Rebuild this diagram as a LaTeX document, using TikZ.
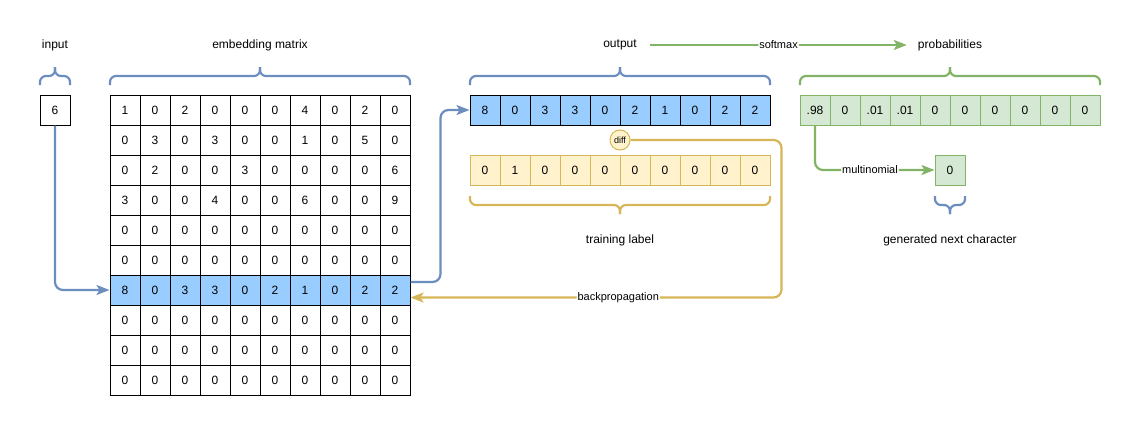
\documentclass[tikz,border=0pt]{standalone}
\usepackage{fontspec}
\setmainfont{Liberation Sans}
\usetikzlibrary{arrows.meta,calc}
\definecolor{bluestroke}{HTML}{6C8EBF}
\definecolor{bluefill}{HTML}{99CCFF}
\definecolor{yellowstroke}{HTML}{D6B656}
\definecolor{yellowfill}{HTML}{FFF2CC}
\definecolor{greenstroke}{HTML}{82B366}
\definecolor{greenfill}{HTML}{D5E8D4}
\def\curlybrace[#1](#2:#3)(#4:#5:#6){\draw[#1] (#2,#4) -- (#2,#5) -- ({(#2+#3)/2},#5) -- ({(#2+#3)/2},#6); \draw[#1] (#3,#4) -- (#3,#5) -- ({(#2+#3)/2},#5) -- ({(#2+#3)/2},#6);}

\begin{document}
\begin{tikzpicture}[x=1pt, y=-1pt,
	cell/.style={draw, line width=1pt, minimum size=30pt, inner sep=0pt, font=\fontsize{12}{14}\selectfont},
	heading/.style={inner sep=0pt, minimum height=14pt, font=\fontsize{12}{14}\selectfont},
	elabel/.style={fill=white, text=black, inner sep=1pt, font=\fontsize{11}{13}\selectfont},
	link/.style={line width=2.2pt, rounded corners=8pt, -{Stealth[length=13pt, width=10pt, inset=3pt]}},
	curly/.style={line width=2.2pt, rounded corners=6pt}]
		%%%%% START %%%%%
		\useasboundingbox (0,0) rectangle (1132,426);
		
		\node[heading] (inputtitle) at (55,45) {input};
		\node[heading] (embtitle) at (260,45) {embedding matrix};
		\node[heading, minimum width=60pt] (outtitle) at (620,45) {output};
		\node[heading, minimum width=86pt] (probtitle) at (950,45) {probabilities};
		\node[heading] (traintitle) at (620,240) {training label};
		\node[heading] (gentitle) at (950,240) {generated next character};
		
		\node[cell] (inp) at (55,110) {6};
		
		% embedding matrix, row 7 is the looked up one
		\foreach \row [count=\r] in {{1,0,2,0,0,0,4,0,2,0},{0,3,0,3,0,0,1,0,5,0},{0,2,0,0,3,0,0,0,0,6},{3,0,0,4,0,0,6,0,0,9},{0,0,0,0,0,0,0,0,0,0},{0,0,0,0,0,0,0,0,0,0},{8,0,3,3,0,2,1,0,2,2},{0,0,0,0,0,0,0,0,0,0},{0,0,0,0,0,0,0,0,0,0},{0,0,0,0,0,0,0,0,0,0}}{
			\ifnum\r=7 \def\cellfill{bluefill}\else\def\cellfill{white}\fi
			\foreach \v [count=\c] in \row
				\node[cell, fill=\cellfill] (m-\r-\c) at ({95+30*\c},{80+30*\r}) {\v};
		}
		
		\foreach \v [count=\c] in {8,0,3,3,0,2,1,0,2,2}
			\node[cell, fill=bluefill] (o-\c) at ({455+30*\c},110) {\v};
		\foreach \v [count=\c] in {0,1,0,0,0,0,0,0,0,0}
			\node[cell, draw=yellowstroke, fill=yellowfill] (t-\c) at ({455+30*\c},170) {\v};
		\foreach \v [count=\c] in {.98,0,.01,.01,0,0,0,0,0,0}
			\node[cell, draw=greenstroke, fill=greenfill] (p-\c) at ({785+30*\c},110) {\v};
		\node[cell, draw=greenstroke, fill=greenfill] (gen) at (950,170) {0};
		
		\node[circle, draw=yellowstroke, fill=yellowfill, line width=1pt, minimum size=20pt, inner sep=0pt, font=\fontsize{9}{10}\selectfont] (diff) at (620,140) {diff};
		
		% braces
		\curlybrace[curly, bluestroke](40:70)(85:76:67)
		\curlybrace[curly, bluestroke](110:410)(85:76:67)
		\curlybrace[curly, bluestroke](470:770)(85:76:67)
		\curlybrace[curly, greenstroke](800:1100)(85:76:67)
		\curlybrace[curly, yellowstroke](470:770)(196:205:214)
		\curlybrace[curly, bluestroke](935:965)(196:205:214)
		
		% connectors
		\draw[link, bluestroke] (inp.south) |- (m-7-1.west);
		\draw[link, bluestroke] ([yshift=8pt]m-7-10.east) -- ++(30,0) |- (o-1.west);
		\draw[link, yellowstroke] (diff.east) -- ++(151,0) |- node[elabel, pos=0.72] {backpropagation} ([yshift=-7.5pt]m-7-10.east);
		\draw[link, greenstroke] (outtitle.east) -- node[elabel] {softmax} (probtitle.west);
		\draw[link, greenstroke] (p-1.south) |- node[elabel, pos=0.73] {multinomial} (gen.west);
		
		%%%%% END %%%%%
\end{tikzpicture}
\end{document}
